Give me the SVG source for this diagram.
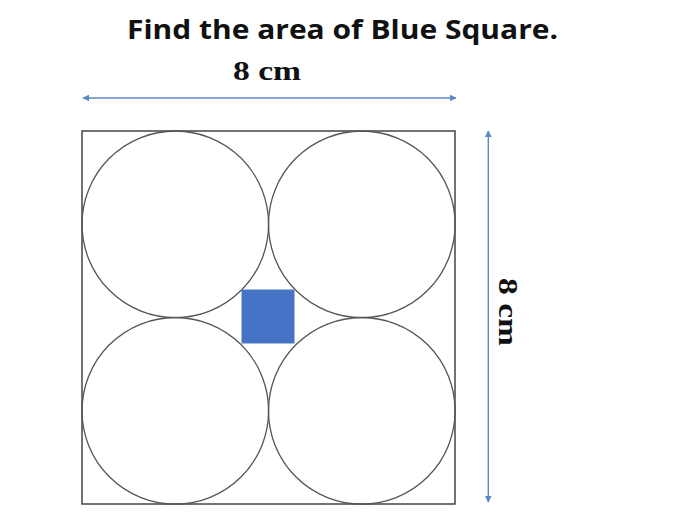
<svg xmlns="http://www.w3.org/2000/svg" width="700" height="517" viewBox="0 0 700 517">
  <style>
    .title { font-family: "Open Sans", "Liberation Sans", sans-serif; font-weight: bold; font-size: 27px; fill: #111; }
    .dim { font-family: "Liberation Serif", serif; font-weight: bold; font-size: 28px; fill: #111; }
    .frame { fill: #fff; stroke: #444; stroke-width: 1.5; }
    .circ { fill: none; stroke: #555; stroke-width: 1.3; }
    .arrow { stroke: #5a8ac6; stroke-width: 1.4; fill: none; marker-start: url(#ah); marker-end: url(#ah); }
  </style>
  <defs>
    <marker id="ah" viewBox="0 0 10 10" refX="9" refY="5" markerWidth="7" markerHeight="7" markerUnits="userSpaceOnUse" orient="auto-start-reverse">
      <path d="M0,0 L10,5 L0,10 z" fill="#5a8ac6"/>
    </marker>
  </defs>
  <rect width="700" height="517" fill="#fff"/>
  <g id="title">
    <text class="title" x="127" y="39" textLength="431" lengthAdjust="spacingAndGlyphs">Find the area of Blue Square.</text>
  </g>
  <g id="outer-square">
    <rect class="frame" x="82" y="131" width="373" height="373"/>
  </g>
  <g id="circles">
    <circle class="circ" cx="175.3" cy="224.3" r="93.3"/>
    <circle class="circ" cx="361.8" cy="224.3" r="93.3"/>
    <circle class="circ" cx="175.3" cy="410.8" r="93.3"/>
    <circle class="circ" cx="361.8" cy="410.8" r="93.3"/>
  </g>
  <g id="blue-square">
    <rect x="242" y="290" width="52" height="53" fill="#4472c4" stroke="#4a78c2" stroke-width="1"/>
  </g>
  <g id="connectors">
    <line class="arrow" x1="83" y1="98" x2="456" y2="98"/>
    <line class="arrow" x1="488.3" y1="131" x2="488.3" y2="502"/>
  </g>
  <g id="label-top">
    <text class="dim" x="233" y="80" textLength="68" lengthAdjust="spacingAndGlyphs">8 cm</text>
  </g>
  <g id="label-right">
    <text class="dim" transform="translate(499,278) rotate(90)" x="0" y="0" textLength="68" lengthAdjust="spacingAndGlyphs">8 cm</text>
  </g>
</svg>
